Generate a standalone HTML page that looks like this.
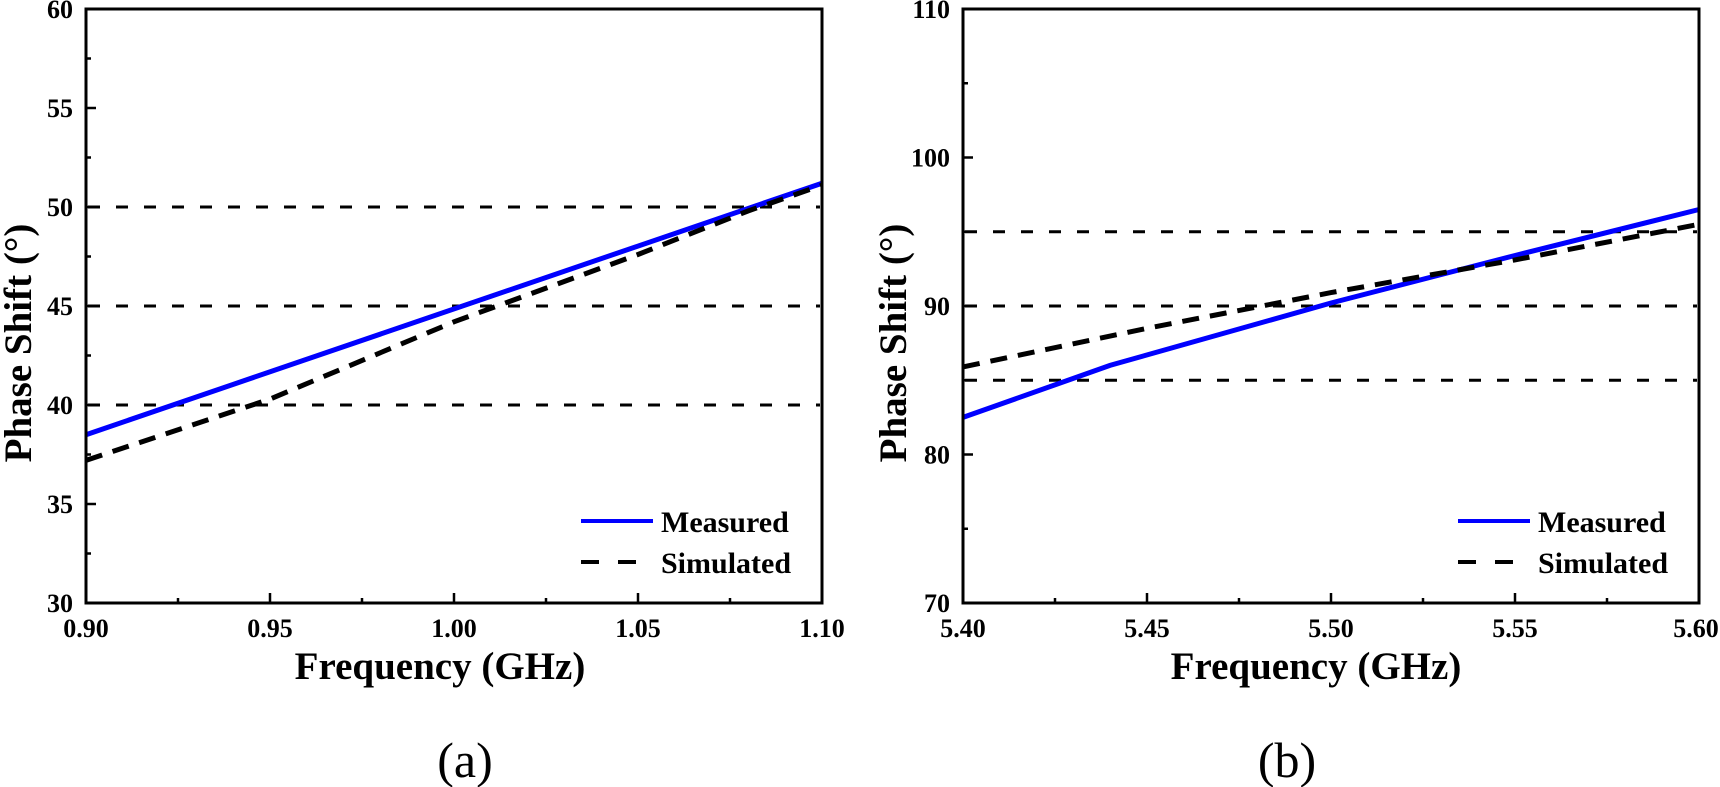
<!DOCTYPE html>
<html><head><meta charset="utf-8"><style>
html,body{margin:0;padding:0;background:#fff;}
svg{display:block;}
text{font-family:"Liberation Serif","Times New Roman",serif;fill:#000;}
.t{font-weight:bold;font-size:26px;}
.ax{font-weight:bold;font-size:39px;}
.lg{font-weight:bold;font-size:30px;}
.cap{font-size:50px;}
</style></head><body>
<svg width="1720" height="787" viewBox="0 0 1720 787" xmlns="http://www.w3.org/2000/svg">
<!-- LEFT PLOT -->
<g>
 <g stroke="#000" stroke-width="3" stroke-dasharray="12 16" fill="none">
  <line x1="88" y1="207" x2="820" y2="207"/>
  <line x1="88" y1="306" x2="820" y2="306"/>
  <line x1="88" y1="405" x2="820" y2="405"/>
 </g>
 <polyline points="86,434.7 822,183.2" stroke="#0000ff" stroke-width="5" fill="none"/>
 <polyline points="86,460.4 270,399.1 454,321.8 638,254.5 748,211 822,185.2" stroke="#000" stroke-width="5" stroke-dasharray="17 11" fill="none"/>
 <rect x="86" y="9" width="736" height="594" fill="none" stroke="#000" stroke-width="3"/>
 <g stroke="#000" stroke-width="2.5">
  <line x1="86" y1="108" x2="96" y2="108"/><line x1="86" y1="207" x2="96" y2="207"/>
  <line x1="86" y1="306" x2="96" y2="306"/><line x1="86" y1="405" x2="96" y2="405"/>
  <line x1="86" y1="504" x2="96" y2="504"/>
  <line x1="86" y1="58.5" x2="91" y2="58.5"/><line x1="86" y1="157.5" x2="91" y2="157.5"/>
  <line x1="86" y1="256.5" x2="91" y2="256.5"/><line x1="86" y1="355.5" x2="91" y2="355.5"/>
  <line x1="86" y1="454.5" x2="91" y2="454.5"/><line x1="86" y1="553.5" x2="91" y2="553.5"/>
  <line x1="270" y1="603" x2="270" y2="593"/><line x1="454" y1="603" x2="454" y2="593"/>
  <line x1="638" y1="603" x2="638" y2="593"/>
  <line x1="178" y1="603" x2="178" y2="598"/><line x1="362" y1="603" x2="362" y2="598"/>
  <line x1="546" y1="603" x2="546" y2="598"/><line x1="730" y1="603" x2="730" y2="598"/>
 </g>
 <g class="t" text-anchor="end">
  <text x="73" y="18">60</text><text x="73" y="117">55</text><text x="73" y="216">50</text>
  <text x="73" y="315">45</text><text x="73" y="414">40</text><text x="73" y="513">35</text>
  <text x="73" y="612">30</text>
 </g>
 <g class="t" text-anchor="middle">
  <text x="86" y="637">0.90</text><text x="270" y="637">0.95</text><text x="454" y="637">1.00</text>
  <text x="638" y="637">1.05</text><text x="822" y="637">1.10</text>
 </g>
 <text class="ax" x="440" y="679" text-anchor="middle">Frequency (GHz)</text>
 <text class="ax" transform="translate(31,343) rotate(-90)" text-anchor="middle">Phase Shift (°)</text>
 <line x1="581" y1="521" x2="653" y2="521" stroke="#0000ff" stroke-width="4"/>
 <line x1="581" y1="562" x2="653" y2="562" stroke="#000" stroke-width="4" stroke-dasharray="18 19"/>
 <text class="lg" x="661" y="532">Measured</text>
 <text class="lg" x="661" y="573">Simulated</text>
 <text class="cap" x="465" y="777" text-anchor="middle">(a)</text>
</g>
<!-- RIGHT PLOT -->
<g>
 <g stroke="#000" stroke-width="3" stroke-dasharray="12 16" fill="none">
  <line x1="965" y1="231.75" x2="1697" y2="231.75"/>
  <line x1="965" y1="306" x2="1697" y2="306"/>
  <line x1="965" y1="380.25" x2="1697" y2="380.25"/>
 </g>
 <polyline points="963,417.4 1110,365.4 1331,303 1515,255.5 1699,209.5" stroke="#0000ff" stroke-width="5" fill="none"/>
 <polyline points="963,366.9 1147,328.3 1331,292.6 1515,259.9 1699,224.3" stroke="#000" stroke-width="5" stroke-dasharray="17 11" fill="none"/>
 <rect x="963" y="9" width="736" height="594" fill="none" stroke="#000" stroke-width="3"/>
 <g stroke="#000" stroke-width="2.5">
  <line x1="963" y1="157.5" x2="973" y2="157.5"/><line x1="963" y1="306" x2="973" y2="306"/>
  <line x1="963" y1="454.5" x2="973" y2="454.5"/>
  <line x1="963" y1="83.25" x2="968" y2="83.25"/><line x1="963" y1="231.75" x2="968" y2="231.75"/>
  <line x1="963" y1="380.25" x2="968" y2="380.25"/><line x1="963" y1="528.75" x2="968" y2="528.75"/>
  <line x1="1147" y1="603" x2="1147" y2="593"/><line x1="1331" y1="603" x2="1331" y2="593"/>
  <line x1="1515" y1="603" x2="1515" y2="593"/>
  <line x1="1055" y1="603" x2="1055" y2="598"/><line x1="1239" y1="603" x2="1239" y2="598"/>
  <line x1="1423" y1="603" x2="1423" y2="598"/><line x1="1607" y1="603" x2="1607" y2="598"/>
 </g>
 <g class="t" text-anchor="end">
  <text x="950" y="18">110</text><text x="950" y="166.5">100</text><text x="950" y="315">90</text>
  <text x="950" y="463.5">80</text><text x="950" y="612">70</text>
 </g>
 <g class="t" text-anchor="middle">
  <text x="963" y="637">5.40</text><text x="1147" y="637">5.45</text><text x="1331" y="637">5.50</text>
  <text x="1515" y="637">5.55</text><text x="1696" y="637">5.60</text>
 </g>
 <text class="ax" x="1316" y="679" text-anchor="middle">Frequency (GHz)</text>
 <text class="ax" transform="translate(906,343) rotate(-90)" text-anchor="middle">Phase Shift (°)</text>
 <line x1="1458" y1="521" x2="1530" y2="521" stroke="#0000ff" stroke-width="4"/>
 <line x1="1458" y1="562" x2="1530" y2="562" stroke="#000" stroke-width="4" stroke-dasharray="18 19"/>
 <text class="lg" x="1538" y="532">Measured</text>
 <text class="lg" x="1538" y="573">Simulated</text>
 <text class="cap" x="1287" y="777" text-anchor="middle">(b)</text>
</g>
</svg>
</body></html>
